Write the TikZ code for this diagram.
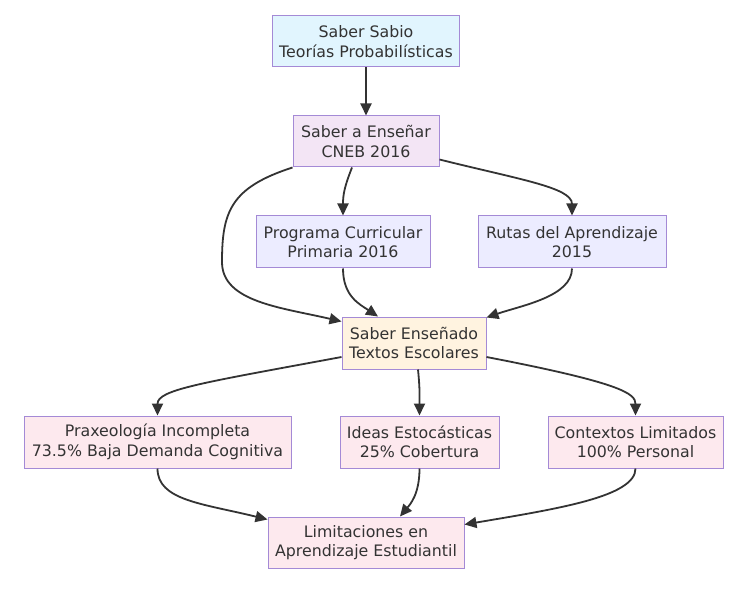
\documentclass[tikz,border=0pt]{standalone}
\usepackage{fontspec}
\setmainfont{DejaVu Sans}
\usetikzlibrary{arrows.meta}
\definecolor{edge}{HTML}{333333}
\definecolor{txt}{HTML}{333333}
\definecolor{bord}{HTML}{A48AD6}
\definecolor{cA}{HTML}{E1F5FE}
\definecolor{cB}{HTML}{F3E5F5}
\definecolor{cC}{HTML}{ECECFF}
\definecolor{cD}{HTML}{FFF3E0}
\definecolor{cE}{HTML}{FDE9EE}
\begin{document}
\begin{tikzpicture}[x=1pt,y=-1pt,
  box/.style={draw=bord, line width=1pt, align=center, inner sep=0pt,
    font=\fontsize{15.8}{19.5}\selectfont, text=txt},
  arr/.style={draw=edge, line width=1.8pt, -{Triangle[length=12pt,width=11pt]}}]
\useasboundingbox[fill=white] (0,0) rectangle (748,615);
\node[box, fill=cA, minimum width=187pt, minimum height=51pt] (sabio) at (366,41.5) {Saber Sabio\\Teorías Probabilísticas};
\node[box, fill=cB, minimum width=146pt, minimum height=51pt] (ensenar) at (366,141.5) {Saber a Enseñar\\CNEB 2016};
\node[box, fill=cC, minimum width=174pt, minimum height=52pt] (progr) at (343,242) {Programa Curricular\\Primaria 2016};
\node[box, fill=cC, minimum width=188pt, minimum height=52pt] (rutas) at (572,242) {Rutas del Aprendizaje\\2015};
\node[box, fill=cD, minimum width=144pt, minimum height=52pt] (ensenado) at (414,343) {Saber Enseñado\\Textos Escolares};
\node[box, fill=cE, minimum width=267pt, minimum height=52pt] (praxe) at (157.5,442) {Praxeología Incompleta\\73.5\% Baja Demanda Cognitiva};
\node[box, fill=cE, minimum width=159pt, minimum height=52pt] (ideas) at (419.5,442) {Ideas Estocásticas\\25\% Cobertura};
\node[box, fill=cE, minimum width=175pt, minimum height=52pt] (contex) at (635.5,442) {Contextos Limitados\\100\% Personal};
\node[box, fill=cE, minimum width=196pt, minimum height=51pt] (limit) at (366,542.5) {Limitaciones en\\Aprendizaje Estudiantil};
\coordinate (lm) at (222,262);

\draw[arr] (sabio) -- (ensenar);
\draw[arr] (ensenar.south west) .. controls +(-62,20) and +(0,-50) .. (lm) .. controls +(0,40) and +(-60,-14) .. ([yshift=-5pt]ensenado.north west);
\draw[arr] ([xshift=-14pt]ensenar.south) .. controls +(-7,18) and +(0,-22) .. (progr.north);
\draw[arr] ([yshift=-18pt]ensenar.east) .. controls +(80,20) and +(0,-28) .. (rutas.north);
\draw[arr] (progr.south) .. controls +(0,28) and +(-18,-12) .. ([xshift=-36pt]ensenado.north);
\draw[arr] (rutas.south) .. controls +(0,28) and +(35,-12) .. ([yshift=-1pt]ensenado.north east);
\draw[arr] ([yshift=-14pt]ensenado.west) .. controls +(-140,26) and +(0,-26) .. (praxe.north);
\draw[arr] ([xshift=4pt]ensenado.south) .. controls +(2,20) and +(0,-20) .. (ideas.north);
\draw[arr] ([yshift=-14pt]ensenado.east) .. controls +(135,26) and +(0,-22) .. (contex.north);
\draw[arr] (praxe.south) .. controls +(0,32) and +(-65,-16) .. ([yshift=-3pt]limit.north west);
\draw[arr] (ideas.south) .. controls +(0,26) and +(10,-12) .. ([xshift=34pt]limit.north);
\draw[arr] (contex.south) .. controls +(0,28) and +(95,-16) .. ([yshift=-8pt]limit.north east);
\end{tikzpicture}
\end{document}
